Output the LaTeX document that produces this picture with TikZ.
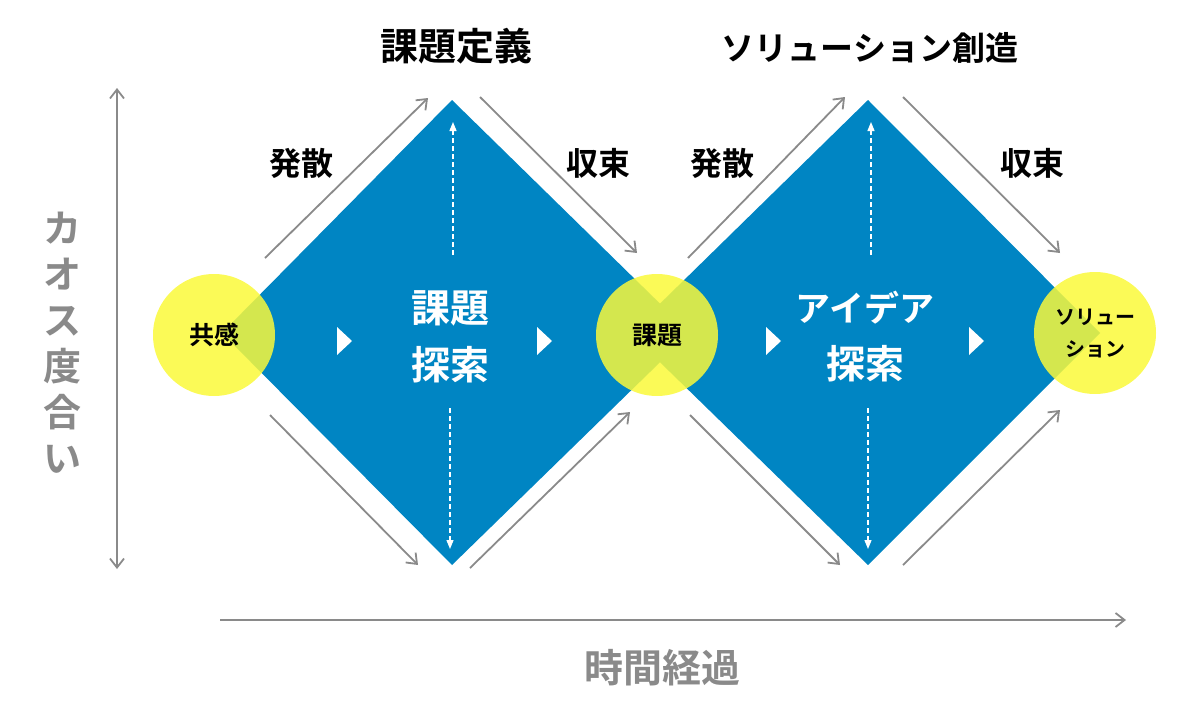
\documentclass[tikz,border=0pt]{standalone}
\usepackage{fontspec}
\setmainfont{Noto Sans CJK JP}[BoldFont={* Bold}]
\usetikzlibrary{arrows.meta}
\definecolor{dblue}{HTML}{0085C3}
\definecolor{dyel}{HTML}{FAF93A}
\definecolor{agray}{HTML}{8A8A8A}
\begin{document}
\begin{tikzpicture}[x=1pt,y=-1pt,
 garrow/.style={agray,line width=1.8pt,-{Straight Barb[length=9pt,width=14pt]}},
 wdash/.style={white,line width=1.3pt,dash pattern=on 5pt off 3pt,-{Triangle[length=9pt,width=7pt]}},
 circ/.style={circle,fill=dyel,fill opacity=0.85,text opacity=1,minimum size=122pt,inner sep=0pt},
 ctxt/.style={font=\bfseries\fontsize{25}{32}\selectfont,align=center},
 lbl/.style={font=\bfseries\fontsize{32}{34}\selectfont},
 ttl/.style={font=\bfseries\fontsize{38}{40}\selectfont},
 ctr/.style={white,align=center,font=\bfseries\fontsize{39}{57}\selectfont},
 tri/.style={white}]
\useasboundingbox (0,0) rectangle (1200,715);
% diamonds
\fill[dblue] (222,333) -- (452,100) -- (690,333) -- (452,565) -- cycle;
\fill[dblue] (630,333) -- (868,100) -- (1100,333) -- (868,565) -- cycle;
% circles
\node[circ] (c1) at (214,335) {};
\node[circ] (c2) at (657,335) {};
\node[circ] (c3) at (1095,333) {};
\node[ctxt] (c1t) at (c1) {共感};
\node[ctxt] (c2t) at (c2) {課題};
\node[ctxt,font=\bfseries\fontsize{20}{32}\selectfont] (c3t) at (c3) {ソリュー\\ション};
% gray arrows
\coordinate (a1s) at (265,258); \coordinate (a1e) at (428,98);
\coordinate (a2s) at (480,97); \coordinate (a2e) at (637,253);
\coordinate (a3s) at (270,415); \coordinate (a3e) at (418,565);
\coordinate (a4s) at (470,568); \coordinate (a4e) at (630,412);
\coordinate (b1s) at (688,258); \coordinate (b1e) at (845,97);
\coordinate (b2s) at (903,97); \coordinate (b2e) at (1060,253);
\coordinate (b3s) at (690,415); \coordinate (b3e) at (840,565);
\coordinate (b4s) at (903,565); \coordinate (b4e) at (1060,410);
\foreach \s/\e in {a1s/a1e,a2s/a2e,a3s/a3e,a4s/a4e,b1s/b1e,b2s/b2e,b3s/b3e,b4s/b4e}
  \draw[garrow] (\s) -- (\e);
% dashed white arrows
\coordinate (d1a) at (453,255); \coordinate (d1b) at (453,122);
\coordinate (d2a) at (450,408); \coordinate (d2b) at (450,549);
\coordinate (d3a) at (871,255); \coordinate (d3b) at (871,122);
\coordinate (d4a) at (868,408); \coordinate (d4b) at (868,549);
\foreach \s/\e in {d1a/d1b,d2a/d2b,d3a/d3b,d4a/d4b}
  \draw[wdash] (\s) -- (\e);
% white triangles
\foreach \x in {337,537,766,969}
  \fill[tri] (\x,327) -- (\x+15,341) -- (\x,355) -- cycle;
% centre texts
\node[ctr] (t1) at (450,337) {課題\\探索};
\node[ctr,font=\bfseries\fontsize{35}{57}\selectfont] (t2) at (865,337) {アイデア\\\fontsize{39}{57}\selectfont 探索};
% titles and labels
\node[ttl] (h1) at (456,46) {課題定義};
\node[ttl,font=\bfseries\fontsize{33}{36}\selectfont] (h2) at (870,48) {ソリューション創造};
\node[lbl] (l1) at (301,163) {発散};
\node[lbl] (l2) at (598,163) {収束};
\node[lbl] (l3) at (722,163) {発散};
\node[lbl] (l4) at (1032,163) {収束};
% axes
\coordinate (v1) at (117,88); \coordinate (v2) at (117,569);
\draw[agray,line width=1.8pt,{Straight Barb[length=9pt,width=14pt]}-{Straight Barb[length=9pt,width=14pt]}] (v1) -- (v2);
\coordinate (h1s) at (220,620); \coordinate (h1e) at (1126,620);
\draw[garrow] (h1s) -- (h1e);
\node[agray,align=center,font=\bfseries\fontsize{38}{46}\selectfont] (yl) at (62,343) {カ\\オ\\ス\\度\\合\\い};
\node[agray,font=\bfseries\fontsize{39}{42}\selectfont] (xl) at (662,668) {時間経過};
\end{tikzpicture}
\end{document}
